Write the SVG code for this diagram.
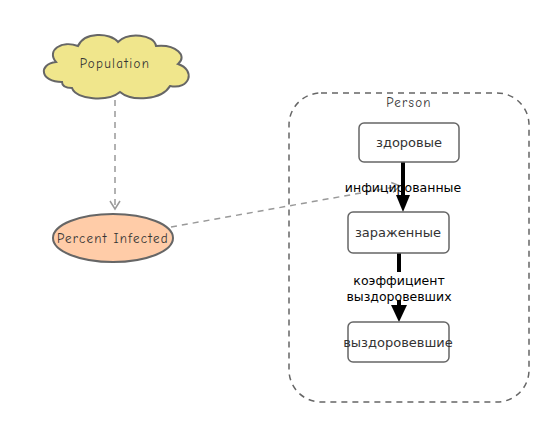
<svg xmlns="http://www.w3.org/2000/svg" width="557" height="424" viewBox="0 0 557 424">
<style>
text{font-family:"Comic Neue","DejaVu Sans","Liberation Sans",sans-serif;font-size:13px;fill:#333;text-anchor:middle}
.lat{font-size:13px;letter-spacing:1.3px}
.lbl{font-family:"DejaVu Sans","Liberation Sans",sans-serif;font-size:12.5px;fill:#000}
.box{fill:#fff;stroke:#666;stroke-width:1.5}
.link{fill:none;stroke:#999;stroke-width:1.5;stroke-dasharray:6,5}
.flow{fill:none;stroke:#000;stroke-width:4}
</style>
<defs>
<marker id="open" markerWidth="12" markerHeight="12" refX="10" refY="6" orient="auto" markerUnits="userSpaceOnUse">
<path d="M2,1 L10,6 L2,11" fill="none" stroke="#999" stroke-width="1.5"/>
</marker>
</defs>
<rect width="557" height="424" fill="#fff"/>
<g id="Person">
<rect x="289" y="93" width="240" height="309" rx="32" fill="none" stroke="#666" stroke-width="1.5" stroke-dasharray="6,5"/>
<text class="lat" x="409" y="107">Person</text>
</g>
<g id="connectors">
<path class="link" d="M115,100 L115,209" marker-end="url(#open)"/>
<path class="link" d="M171,227 L400,186" marker-end="url(#open)"/>
<path class="flow" d="M403,162 L403,196"/>
<path d="M396,195 L410,195 L403,212 Z" fill="#000"/>
<text class="lbl" x="403" y="192">инфицированные</text>
<path class="flow" d="M399,253 L399,272"/>
<path class="flow" d="M399,300 L399,308"/>
<path d="M391,305 L407,305 L399,322 Z" fill="#000"/>
<text class="lbl" x="399" y="285">коэффициент</text>
<text class="lbl" x="399" y="301">выздоровевших</text>
</g>
<g id="Population">
<path d="M62,82 C40,82 38,64 56,62 C46,50 62,40 78,46 C84,32 110,32 118,42 C128,32 154,34 156,46 C176,44 188,56 178,64 C196,70 190,90 170,86 C162,100 132,102 120,92 C108,102 76,100 72,88 C66,88 62,86 62,82 Z" fill="#f0e68c" stroke="#666" stroke-width="2"/>
<text class="lat" x="115" y="68">Population</text>
</g>
<g id="PercentInfected">
<ellipse cx="113" cy="238" rx="60" ry="24" fill="#ffcca8" stroke="#666" stroke-width="2"/>
<text class="lat" x="113" y="243">Percent Infected</text>
</g>
<g id="zdorovye">
<rect class="box" x="359" y="123" width="100" height="39" rx="5"/>
<text x="409" y="147">здоровые</text>
</g>
<g id="zarazhennye">
<rect class="box" x="348" y="212" width="101" height="41" rx="5"/>
<text x="398" y="237">зараженные</text>
</g>
<g id="vyzdorovevshie">
<rect class="box" x="348" y="322" width="101" height="40" rx="5"/>
<text x="398" y="347">выздоровевшие</text>
</g>
</svg>
